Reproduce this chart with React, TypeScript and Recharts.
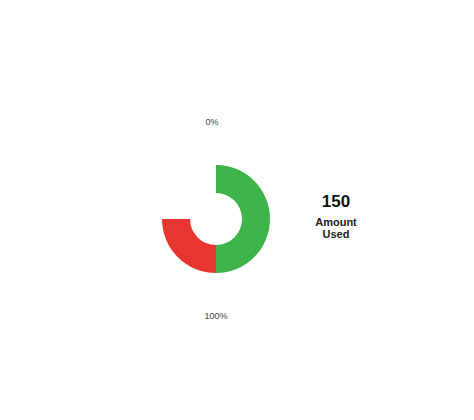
import React from "react";
import { PieChart, Pie, Cell, Label } from "recharts";

const segmentNames = ["Used", "Other", "Remaining"];
const segmentValues = [150, 75, 75];
const segmentColors = ["#3db54a", "#e8352f", "none"];
const topLabel = "0%";
const bottomLabel = "100%";
const centerValue = "150";
const centerCaption = ["Amount", "Used"];

const data = segmentNames.map((name, i) => ({ name, value: segmentValues[i] }));

const Texts = (props: any) => {
  const vb = props.viewBox || {};
  const cx = vb.cx ?? 208;
  const cy = vb.cy ?? 211;
  const font = "'Liberation Sans', Arial, sans-serif";
  return (
    <g>
      <text x={cx - 4} y={cy - 94} textAnchor="middle" fontFamily={font} fontSize={9} fill="#444">
        {topLabel}
      </text>
      <text x={cx} y={cy + 100} textAnchor="middle" fontFamily={font} fontSize={9} fill="#444">
        {bottomLabel}
      </text>
      <text x={cx + 120} y={cy - 12} textAnchor="middle" fontFamily={font} fontSize={17} fontWeight="bold" fill="#111">
        {centerValue}
      </text>
      <text x={cx + 120} y={cy + 7} textAnchor="middle" fontFamily={font} fontSize={11} fontWeight="bold" fill="#222">
        {centerCaption[0]}
      </text>
      <text x={cx + 120} y={cy + 19} textAnchor="middle" fontFamily={font} fontSize={11} fontWeight="bold" fill="#222">
        {centerCaption[1]}
      </text>
    </g>
  );
};

export default function App() {
  return (
    <PieChart width={458} height={404} margin={{ top: 0, right: 0, bottom: 0, left: 0 }}>
      <Pie
        data={data}
        dataKey="value"
        nameKey="name"
        cx={208}
        cy={211}
        innerRadius={26}
        outerRadius={54}
        startAngle={90}
        endAngle={-270}
        stroke="none"
        isAnimationActive={false}
      >
        {data.map((d, i) => (
          <Cell key={d.name} fill={segmentColors[i]} />
        ))}
        <Label content={<Texts />} position="center" />
      </Pie>
    </PieChart>
  );
}
